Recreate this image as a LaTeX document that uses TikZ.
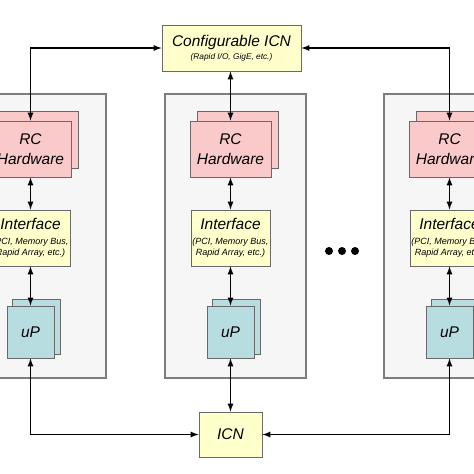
\documentclass[tikz,border=0pt]{standalone}
\usepackage{fontspec}
\setmainfont{Liberation Sans}
\usetikzlibrary{calc}

\definecolor{panelgray}{RGB}{246,246,246}
\definecolor{panelline}{RGB}{125,125,125}
\definecolor{boxline}{RGB}{105,105,105}
\definecolor{rcpink}{RGB}{250,202,202}
\definecolor{icnyellow}{RGB}{255,255,204}
\definecolor{upblue}{RGB}{183,221,225}
\newcommand{\blkfont}{\fontsize{15.5}{20}\selectfont\itshape}
\newcommand{\subfont}{\fontsize{9}{10.5}\selectfont\itshape}
\newcommand{\tinyfont}{\fontsize{8.3}{10}\selectfont\itshape}

\begin{document}
\begin{tikzpicture}[x=1pt,y=-1pt,
	panel/.style={draw=panelline,fill=panelgray,line width=1.2pt},
	blk/.style={draw=boxline,line width=1pt,inner sep=0pt,align=center,font=\blkfont},
	link/.style={latex-latex,line width=1.7pt}]
\useasboundingbox (0,0) rectangle (474,474);
\clip (0,0) rectangle (474,474);
	\foreach \c/\n in {30/L,230/M,449/R} {
	\draw[panel] (\c-65,94) rectangle (\c+76,378);
	\node[blk,fill=rcpink,minimum width=81pt,minimum height=57pt] (rcb\n) at (\c+7.5,139.5) {};
	\node[blk,fill=rcpink,minimum width=81pt,minimum height=56pt] (rc\n) at (\c+0.5,149) {RC\\Hardware};
	\node[blk,fill=icnyellow,minimum width=79pt,minimum height=56pt] (if\n) at (\c+0.5,238) {Interface\\[-5pt]\subfont (PCI, Memory Bus,\\[-9.5pt]\subfont Rapid Array, etc.)};
	\node[blk,fill=upblue,minimum width=48pt,minimum height=55pt] (upb\n) at (\c+6,326.5) {};
	\node[blk,fill=upblue,minimum width=47pt,minimum height=52pt] (up\n) at (\c+0.5,332) {uP};
	\draw[link] (rc\n) -- (if\n);
	\draw[link] (if\n) -- (up\n);
}
\node[blk,fill=icnyellow,minimum width=139pt,minimum height=46pt] (cicn) at (231.5,48) {Configurable ICN\\[-7pt]\tinyfont (Rapid I/O, GigE, etc.)};
\node[blk,fill=icnyellow,minimum width=63pt,minimum height=45pt] (icn) at (230.5,434.5) {ICN};
\draw[link] (cicn.west) -| (rcL.north);
\draw[link] (rcM.north |- cicn.south) -- (rcM.north);
\draw[link] (cicn.east) -| (rcR.north);
\draw[link] (upL.south) |- (icn.west);
\draw[link] (upM.south) -- (upM.south |- icn.north);
\draw[link] (upR.south) |- (icn.east);
\foreach \x in {329,342,355} \fill (\x,251) circle (4pt);
	\end{tikzpicture}
\end{document}
